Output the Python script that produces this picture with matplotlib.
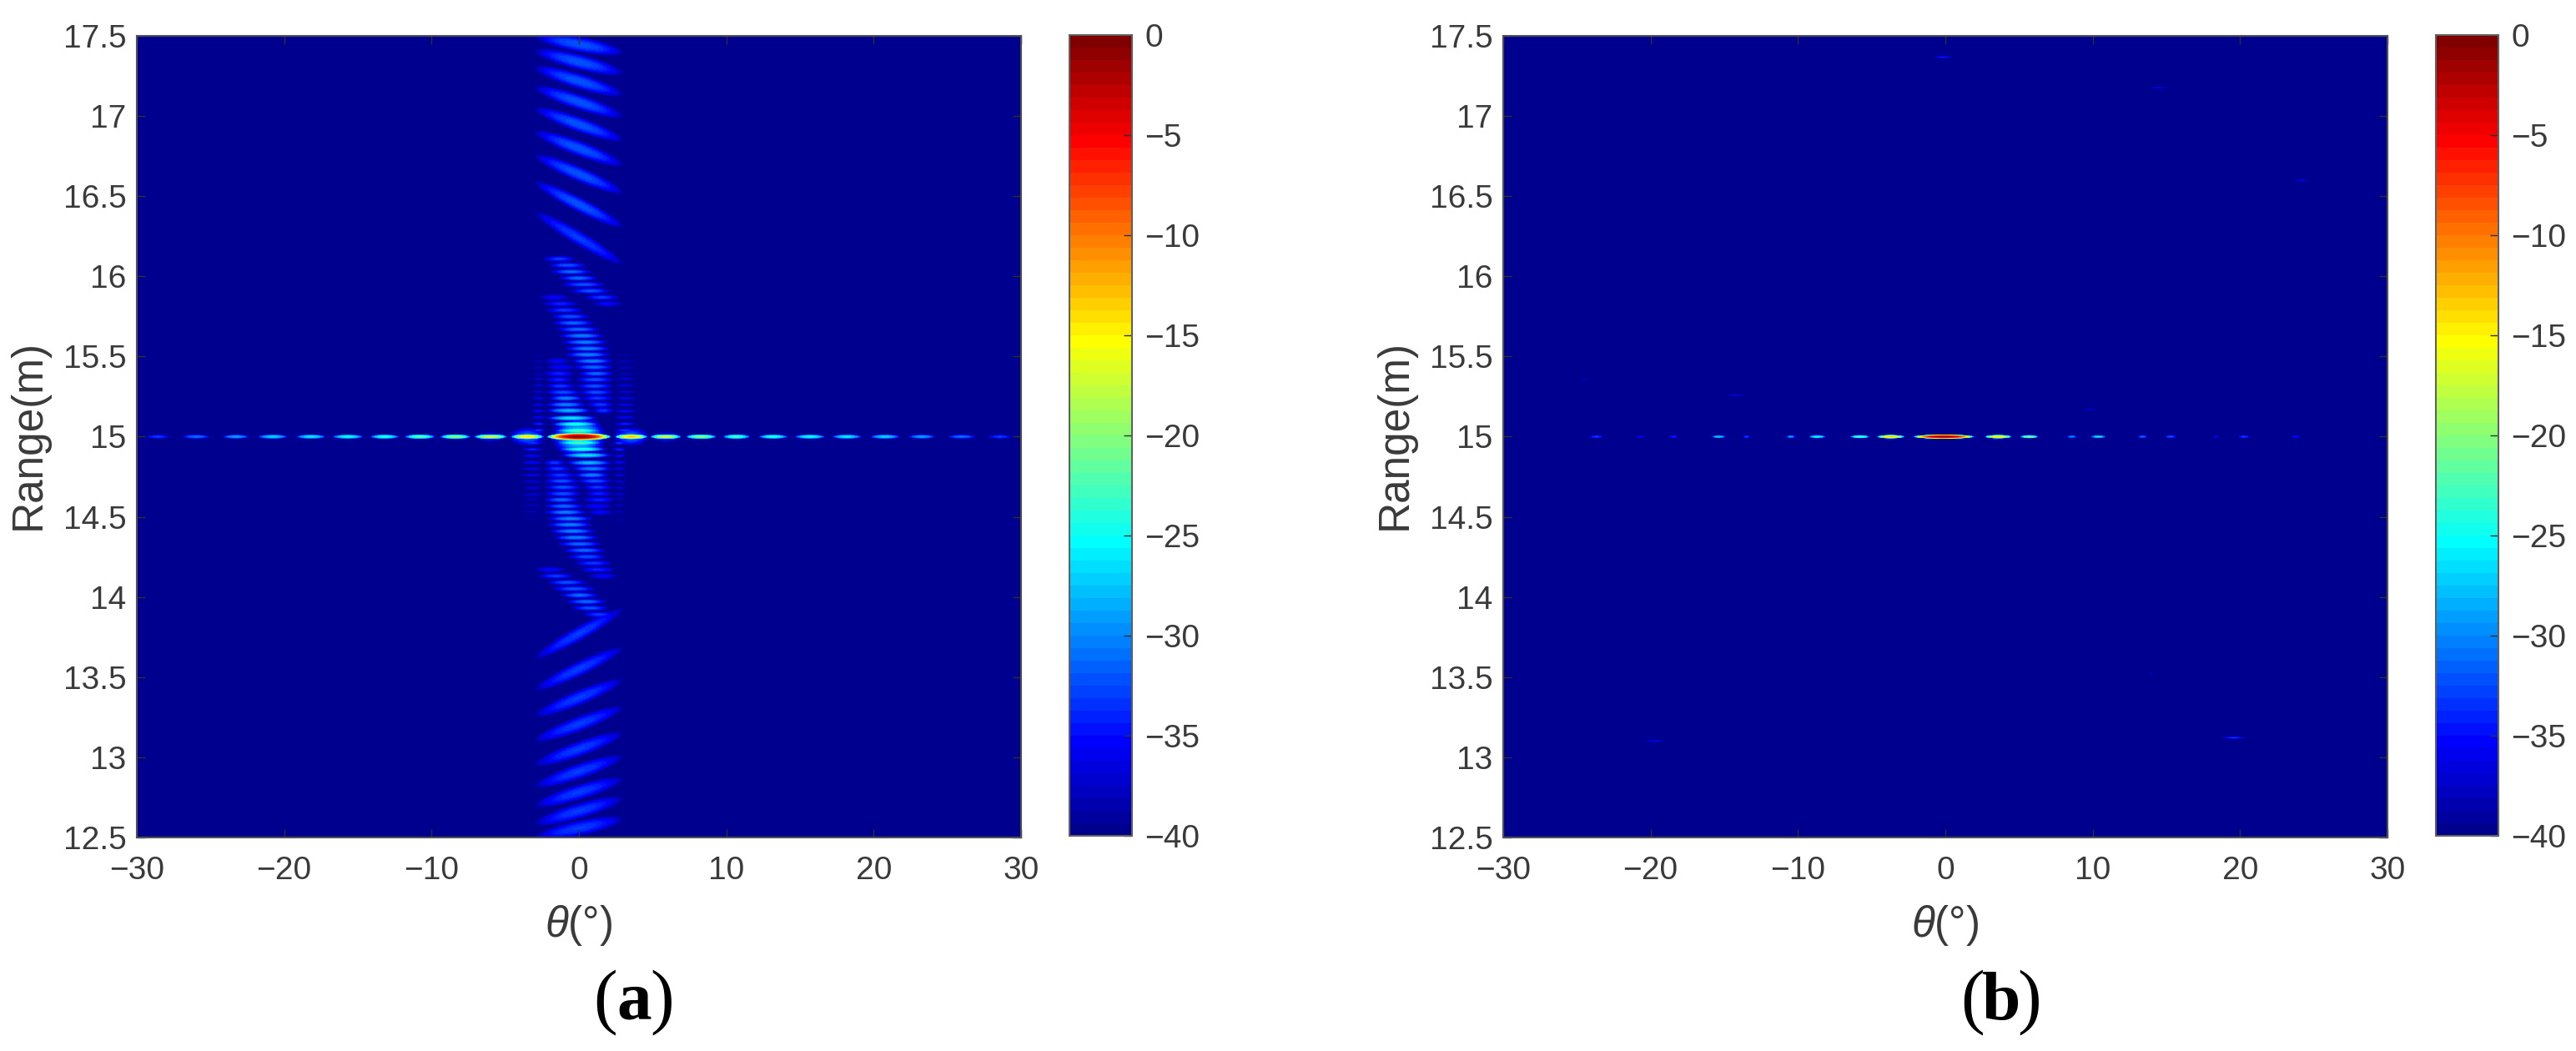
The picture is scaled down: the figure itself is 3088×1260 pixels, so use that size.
#!/usr/bin/env python3
import numpy as np
import matplotlib
matplotlib.use('Agg')
import matplotlib.pyplot as plt
from matplotlib.colors import ListedColormap

plt.rcParams['font.family'] = ['Liberation Sans', 'DejaVu Sans']
plt.rcParams['mathtext.fontset'] = 'custom'
plt.rcParams['mathtext.it'] = 'Liberation Sans:italic'
plt.rcParams['mathtext.rm'] = 'Liberation Sans'

W, H = 3088, 1260
FLOOR = -40.0
TEXT = '#3a3a3a'

x_ticks = [-30, -20, -10, 0, 10, 20, 30]
y_ticks = [12.5, 13, 13.5, 14, 14.5, 15, 15.5, 16, 16.5, 17, 17.5]
y_labels = ['12.5', '13', '13.5', '14', '14.5', '15', '15.5', '16', '16.5', '17', '17.5']
cbar_ticks = [-40, -35, -30, -25, -20, -15, -10, -5, 0]

# (a) lobes along the 15 m line
lobe_a_theta = [-28.6, -26.0, -23.3, -20.8, -18.2, -15.7, -13.2, -10.8, -8.4, -6.0, -3.5,
                0.0, 3.55, 5.9, 8.3, 10.7, 13.2, 15.7, 18.2, 20.8, 23.3, 26.0, 28.6]
lobe_a_half = [0.8, 0.95, 0.9, 1.0, 1.0, 1.05, 1.0, 1.05, 1.05, 1.12, 1.12,
               2.2, 1.12, 1.05, 1.05, 0.95, 1.0, 1.05, 1.0, 1.0, 0.9, 0.95, 0.8]
lobe_a_thick = [0.012, 0.013, 0.013, 0.014, 0.014, 0.014, 0.014, 0.015, 0.015, 0.016, 0.017,
                0.024, 0.017, 0.016, 0.015, 0.015, 0.014, 0.014, 0.014, 0.014, 0.013, 0.013, 0.012]
lobe_a_db = [-33, -31, -29, -27, -26, -25, -24, -22, -20, -17, -14,
             -1, -13, -17, -20, -23, -24, -25, -26, -27, -29, -31, -33]

# (a) soft halos around the lobes near the centre
halo_theta = [0.0, -3.5, 3.55, -6.0, 5.9]
halo_half_t = [1.9, 1.25, 1.25, 1.0, 1.0]
halo_half_r = [0.13, 0.06, 0.06, 0.04, 0.04]
halo_db = [-26, -31, -31, -36, -36]

# (a) tilted stripes far from the target: range at theta=0, tilt in m per degree
stripe_range = [17.45, 17.34, 17.22, 17.09, 16.95, 16.80, 16.64, 16.45, 16.24,
                13.77, 13.55, 13.37, 13.206, 13.05, 12.91, 12.78, 12.663, 12.555]
stripe_tilt = [-0.0167, -0.0228, -0.0274, -0.0295, -0.032, -0.0335, -0.038, -0.0456, -0.053,
               0.05, 0.0426, 0.0365, 0.0335, 0.032, 0.03, 0.027, 0.0258, 0.019]
stripe_db = [-32, -32, -32, -32, -32, -32, -32, -32, -33,
             -33, -33, -33, -33, -33, -33, -33, -33, -33]

# (a) fine horizontal rows close to 15 m; the lower half reads as the upper half turned by 180 deg
fine_offset = [0.038, 0.078, 0.116, 0.163, 0.163, 0.20, 0.20, 0.24, 0.24, 0.277, 0.277,
               0.316, 0.316, 0.356, 0.356, 0.394, 0.394, 0.434, 0.434, 0.472, 0.472,
               0.512, 0.55, 0.59, 0.63, 0.67, 0.71, 0.75, 0.79, 0.83, 0.83, 0.87, 0.87,
               0.91, 0.95, 0.99, 1.03, 1.07, 1.11]
fine_lo = [-1.55, -1.74, -2.1, -2.1, 1.1, -2.1, 0.72, -1.9, 0.34, -2.1, 0.15,
           -2.1, -0.04, -2.1, -0.04, -2.3, 0.15, -2.1, -0.2, -2.1, -0.4,
           -0.8, -0.8, -1.0, -1.17, -1.36, -1.64, -1.74, -2.1, -2.3, 1.1, -2.5, 0.5,
           -0.4, -1.0, -1.17, -1.74, -1.9, -2.3]
fine_hi = [1.47, 1.28, 1.1, 0.72, 2.2, 0.34, 2.2, 0.15, 2.2, -0.04, 2.2,
           -0.4, 2.2, -0.6, 2.2, -0.4, 2.2, -0.4, 2.2, -0.8, 2.2,
           2.0, 2.0, 1.85, 1.57, 1.28, 0.9, 0.6, 0.15, -0.2, 2.8, -0.8, 2.6,
           2.0, 1.66, 1.1, 0.7, 0.34, -0.4]
fine_db = [-22, -24, -26, -28, -33, -30, -33, -30, -33, -32, -32,
           -33, -32, -34, -32, -34, -31, -35, -31, -35, -30,
           -30, -30, -30, -30, -31, -31, -32, -33, -34, -35, -35, -33,
           -32, -32, -31, -31, -32, -33]

# (a) dim rows on both flanks of the fine rows
fringe_offset = [0.04, 0.08, 0.12, 0.16, 0.20, 0.24, 0.28, 0.32, 0.36, 0.39, 0.43, 0.47, 0.51]
fringe_db = [-33, -34, -35, -35, -36, -36, -37, -37, -37, -38, -38, -38, -39]

# (b) lobes along the 15 m line
lobe_b_theta = [-23.7, -20.7, -18.45, -15.4, -13.5, -10.5, -8.7, -5.8, -3.7,
                -0.1, 3.6, 5.7, 8.6, 10.4, 13.4, 15.3, 18.4, 20.3, 23.8]
lobe_b_half = [0.47, 0.33, 0.28, 0.47, 0.28, 0.33, 0.57, 0.66, 0.94,
               2.1, 0.94, 0.61, 0.33, 0.52, 0.33, 0.38, 0.17, 0.42, 0.28]
lobe_b_thick = [0.01, 0.01, 0.01, 0.01, 0.01, 0.01, 0.011, 0.011, 0.012,
                0.014, 0.012, 0.011, 0.01, 0.01, 0.01, 0.01, 0.01, 0.01, 0.01]
lobe_b_db = [-33, -36, -34, -27, -33, -29, -25, -22, -13,
             -1, -14, -20, -30, -26, -31, -32, -35, -33, -35]

# (b) isolated faint specks
speck_theta = [-0.15, 14.5, 24.2, -24.5, -14.2, 9.8, -19.8, 19.6, 14.0]
speck_range = [17.37, 17.18, 16.6, 15.36, 15.26, 15.17, 13.1, 13.12, 13.52]
speck_half = [0.7, 0.6, 0.6, 0.5, 0.9, 0.5, 0.8, 0.9, 0.2]
speck_db = [-34, -36, -36, -38, -37, -37, -36, -33, -38]

theta_axis = np.linspace(-30, 30, 800)
range_axis = np.linspace(12.5, 17.5, 961)
T, R = np.meshgrid(theta_axis, range_axis)


def add_blob(field, theta0, range0, half_t, half_r, peak, tilt=0.0, sharp=1.0):
    u = (T - theta0) / half_t
    v = (R - range0 - tilt * (T - theta0)) / half_r
    val = FLOOR + (peak - FLOOR) * np.clip(1 - u**2 - v**2, 0, None) ** sharp
    np.maximum(field, val, out=field)


def matlab_jet(m=64):
    n = int(np.ceil(m / 4))
    u = np.r_[np.arange(1, n + 1) / n, np.ones(n - 1), np.arange(n, 0, -1) / n]
    g = int(np.ceil(n / 2)) - (1 if m % 4 == 1 else 0) + np.arange(len(u))
    r = g + n
    b = g - n
    lut = np.zeros((m, 3))
    lut[r[r < m], 0] = u[r < m]
    lut[g[g < m], 1] = u[g < m]
    lut[b[b >= 0], 2] = u[b >= 0]
    return ListedColormap(lut)


# Panel (a)
field_a = np.full(T.shape, FLOOR)
for t0, ht, hr, p in zip(halo_theta, halo_half_t, halo_half_r, halo_db):
    add_blob(field_a, t0, 15, ht, hr, p)
for r0, tilt, p in zip(stripe_range, stripe_tilt, stripe_db):
    add_blob(field_a, 0, r0, 3.05, 0.05, p, tilt=tilt, sharp=0.7)
for off, lo, hi, p in zip(fine_offset, fine_lo, fine_hi, fine_db):
    for sign in (1, -1):
        add_blob(field_a, sign * (lo + hi) / 2, 15 + sign * off, (hi - lo) / 2 + 0.25, 0.02, p)
for off, p in zip(fringe_offset, fringe_db):
    for sign in (1, -1):
        add_blob(field_a, sign * -2.75, 15 + sign * off, 0.5, 0.012, p)
        add_blob(field_a, sign * 3.15, 15 + sign * off, 0.8, 0.012, p)
for t0, h, hr, p in zip(lobe_a_theta, lobe_a_half, lobe_a_thick, lobe_a_db):
    add_blob(field_a, t0, 15, h, hr, p, sharp=0.5)

# Panel (b)
field_b = np.full(T.shape, FLOOR)
for t0, r0, h, p in zip(speck_theta, speck_range, speck_half, speck_db):
    add_blob(field_b, t0, r0, h, 0.008, p)
for t0, h, hr, p in zip(lobe_b_theta, lobe_b_half, lobe_b_thick, lobe_b_db):
    add_blob(field_b, t0, 15, h, hr, p, sharp=0.5)

cmap = matlab_jet(64)
fig = plt.figure(figsize=(W / 100, H / 100), dpi=100)


def px_axes(left, right, top, bottom):
    return fig.add_axes([left / W, 1 - bottom / H, (right - left) / W, (bottom - top) / H])


panels = [
    (field_a, (164, 1224, 43, 1004), (1282, 1357, 42, 1002), 'a', 760),
    (field_b, (1802, 2862, 43, 1004), (2920, 2995, 42, 1002), 'b', 2399),
]

for field, box, cbox, tag, tag_x in panels:
    ax = px_axes(*box)
    im = ax.imshow(field, extent=[-30, 30, 12.5, 17.5], origin='lower', aspect='auto',
                   cmap=cmap, vmin=-40, vmax=0, interpolation='nearest')
    ax.set_xticks(x_ticks)
    ax.set_yticks(y_ticks)
    ax.set_yticklabels(y_labels)
    ax.tick_params(axis='both', direction='in', top=True, right=True, length=7.5, width=1,
                   color='#303030', labelsize=28, labelcolor=TEXT)
    ax.tick_params(axis='x', pad=16)
    ax.tick_params(axis='y', pad=9)
    for spine in ax.spines.values():
        spine.set_color('#505050')
        spine.set_linewidth(1.5)
    ax.set_xlabel(r'$\it{\theta}$(°)', fontsize=37, color=TEXT, va='center')
    ax.xaxis.set_label_coords(0.5, -0.110)
    ax.set_ylabel('Range(m)', fontsize=37, color=TEXT, va='center')
    ax.yaxis.set_label_coords(-0.1226, 0.503)

    cax = px_axes(*cbox)
    cb = fig.colorbar(im, cax=cax)
    cb.set_ticks(cbar_ticks)
    cax.tick_params(axis='y', direction='in', length=7.5, width=1, color='#303030',
                    labelsize=28, labelcolor=TEXT, pad=11)
    cb.outline.set_edgecolor('#606060')
    cb.outline.set_linewidth(1.5)

    # Panel tag: upright parentheses round a bold letter
    base = 1 - 1222 / H
    fig.text((tag_x - 34) / W, base, '(', family='Liberation Serif', fontsize=62, ha='center', va='baseline', color='black')
    fig.text(tag_x / W, base, tag, family='Liberation Serif', weight='bold', fontsize=60, ha='center', va='baseline', color='black')
    fig.text((tag_x + 34) / W, base, ')', family='Liberation Serif', fontsize=62, ha='center', va='baseline', color='black')

fig.savefig('out.png', dpi=100)
plt.close(fig)
